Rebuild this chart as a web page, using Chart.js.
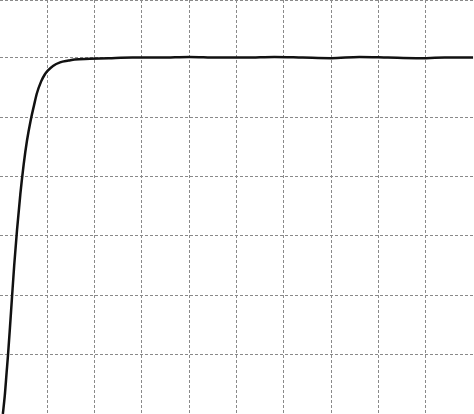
<!DOCTYPE html>
<html>
<head>
<meta charset="utf-8">
<script src="https://cdn.jsdelivr.net/npm/chart.js@4"></script>
<style>
  html, body { margin: 0; padding: 0; background: #fff; }
  #wrap { width: 474px; height: 414px; }
</style>
</head>
<body>
<div id="wrap"><canvas id="c"></canvas></div>
<script>
// step response
const timeVals = [0.06, 0.1, 0.14, 0.17, 0.21, 0.25, 0.3, 0.36, 0.43, 0.5, 0.57, 0.65, 0.72, 0.78, 0.87, 0.95, 1.01, 1.12, 1.27, 1.45, 1.58, 1.9, 2.3, 2.8, 3.4, 4.0, 4.6, 5.2, 5.8, 6.4, 7.0, 7.6, 8.2, 8.8, 9.4, 10.0];
const respVals = [0.0, 0.3, 0.7, 1.0, 1.45, 1.92, 2.5, 3.1, 3.7, 4.2, 4.6, 4.95, 5.2, 5.4, 5.6, 5.72, 5.78, 5.86, 5.92, 5.95, 5.97, 5.98, 5.99, 6.0, 6.0, 6.01, 6.0, 6.0, 6.01, 6.0, 5.99, 6.01, 6.0, 5.99, 6.0, 6.0];

const points = timeVals.map((t, i) => ({ x: t, y: respVals[i] }));

// skip the line sitting on the canvas edge at value 0
const gridStyle = {
  color: (ctx) => (ctx.tick && ctx.tick.value === 0 ? "rgba(0,0,0,0)" : "#8a8a8a"),
  lineWidth: 1,
  drawTicks: false,
};

new Chart(document.getElementById("c"), {
  type: "line",
  data: {
    datasets: [{
      data: points,
      borderColor: "#111",
      borderWidth: 2.5,
      pointRadius: 0,
      cubicInterpolationMode: "monotone",
    }]
  },
  options: {
    animation: false,
    responsive: true,
    maintainAspectRatio: false,
    layout: { padding: 0 },
    plugins: { legend: { display: false }, tooltip: { enabled: false } },
    scales: {
      x: {
        type: "linear", min: 0, max: 10.02,
        ticks: { display: false, stepSize: 1 },
        border: { display: false, dash: [3, 2] },
        grid: gridStyle,
      },
      y: {
        min: 0, max: 6.97,
        ticks: { display: false, stepSize: 1 },
        border: { display: false, dash: [3, 2] },
        grid: gridStyle,
      }
    }
  }
});
</script>
</body>
</html>
